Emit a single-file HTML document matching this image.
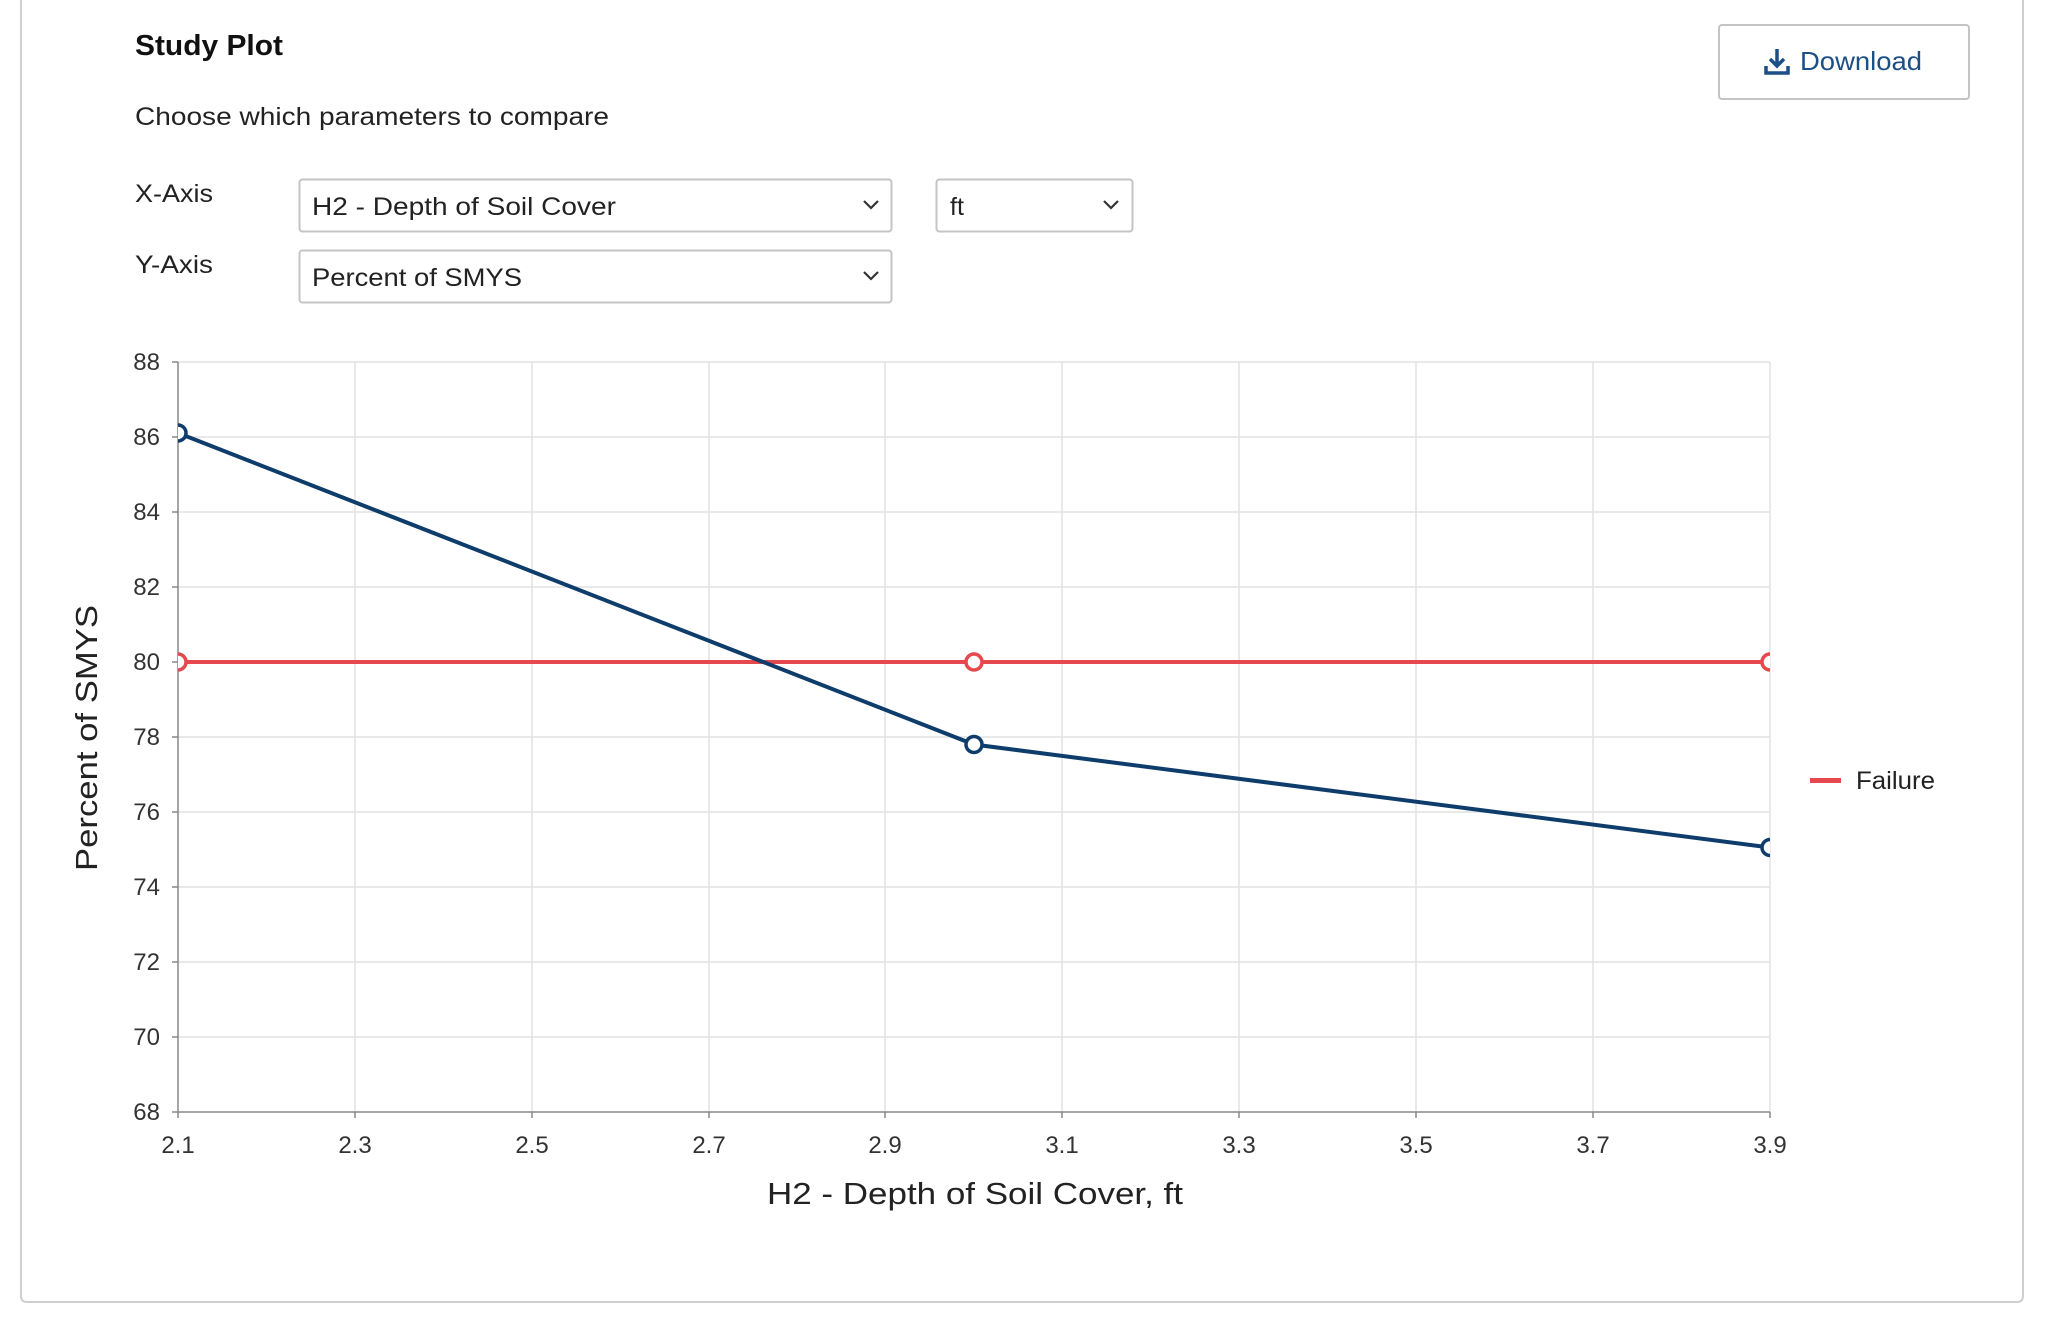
<!DOCTYPE html>
<html><head><meta charset="utf-8"><style>
html,body{margin:0;padding:0;background:#fff;}
body{width:2048px;height:1327px;position:relative;overflow:hidden;font-family:"Liberation Sans",sans-serif;}
</style></head><body>
<svg width="2048" height="1327" viewBox="0 0 2048 1327" xmlns="http://www.w3.org/2000/svg" style="position:absolute;left:0;top:0">
<defs><clipPath id="pc"><rect x="178" y="340" width="1592" height="790"/></clipPath></defs>
<path d="M21 -10 V1296 Q21 1302 27 1302 H2017 Q2023 1302 2023 1296 V-10" fill="none" stroke="#cfcfcf" stroke-width="2"/>
<text x="135" y="55" font-size="29" font-weight="bold" fill="#111" textLength="148" lengthAdjust="spacingAndGlyphs">Study Plot</text>
<text x="135" y="125" font-size="25" fill="#222" textLength="474" lengthAdjust="spacingAndGlyphs">Choose which parameters to compare</text>
<text x="135" y="202" font-size="25" fill="#222" textLength="78" lengthAdjust="spacingAndGlyphs">X-Axis</text>
<text x="135" y="273" font-size="25" fill="#222" textLength="78" lengthAdjust="spacingAndGlyphs">Y-Axis</text>
<rect x="299.5" y="179.5" width="592" height="52" rx="3" fill="#fff" stroke="#c4c4c4" stroke-width="2"/>
<text x="312" y="215" font-size="25" fill="#222" textLength="304" lengthAdjust="spacingAndGlyphs">H2 - Depth of Soil Cover</text>
<path d="M864 201 l7 7 l7 -7" fill="none" stroke="#333" stroke-width="2.2"/>
<rect x="936.5" y="179.5" width="196" height="52" rx="3" fill="#fff" stroke="#c4c4c4" stroke-width="2"/>
<text x="950" y="215" font-size="25" fill="#222">ft</text>
<path d="M1104 201 l7 7 l7 -7" fill="none" stroke="#333" stroke-width="2.2"/>
<rect x="299.5" y="250.5" width="592" height="52" rx="3" fill="#fff" stroke="#c4c4c4" stroke-width="2"/>
<text x="312" y="286" font-size="25" fill="#222" textLength="210" lengthAdjust="spacingAndGlyphs">Percent of SMYS</text>
<path d="M864 272 l7 7 l7 -7" fill="none" stroke="#333" stroke-width="2.2"/>
<rect x="1719" y="25" width="250" height="74" rx="3" fill="#fff" stroke="#c4c4c4" stroke-width="2"/>
<g stroke="#1b4f86" stroke-width="3.5" fill="none"><path d="M1777 49 v17 M1770 59 l7 7 l7 -7"/><path d="M1766 66 v7 h22 v-7"/></g>
<text x="1800" y="70" font-size="26" fill="#1b4f86" textLength="122" lengthAdjust="spacingAndGlyphs">Download</text>
<g stroke="#e2e2e2" stroke-width="1.5">
<line x1="178" y1="362" x2="1770" y2="362"/><line x1="178" y1="437" x2="1770" y2="437"/><line x1="178" y1="512" x2="1770" y2="512"/><line x1="178" y1="587" x2="1770" y2="587"/><line x1="178" y1="662" x2="1770" y2="662"/><line x1="178" y1="737" x2="1770" y2="737"/><line x1="178" y1="812" x2="1770" y2="812"/><line x1="178" y1="887" x2="1770" y2="887"/><line x1="178" y1="962" x2="1770" y2="962"/><line x1="178" y1="1037" x2="1770" y2="1037"/>
<line x1="355" y1="362" x2="355" y2="1112"/><line x1="532" y1="362" x2="532" y2="1112"/><line x1="709" y1="362" x2="709" y2="1112"/><line x1="885" y1="362" x2="885" y2="1112"/><line x1="1062" y1="362" x2="1062" y2="1112"/><line x1="1239" y1="362" x2="1239" y2="1112"/><line x1="1416" y1="362" x2="1416" y2="1112"/><line x1="1593" y1="362" x2="1593" y2="1112"/><line x1="1770" y1="362" x2="1770" y2="1112"/>
</g>
<g stroke="#888" stroke-width="1.5"><line x1="178" y1="362" x2="178" y2="1112"/><line x1="178" y1="1112" x2="1770" y2="1112"/>
<path d="M172 362h6M172 437h6M172 512h6M172 587h6M172 662h6M172 737h6M172 812h6M172 887h6M172 962h6M172 1037h6M172 1112h6"/>
<path d="M178 1112v6M355 1112v6M532 1112v6M709 1112v6M885 1112v6M1062 1112v6M1239 1112v6M1416 1112v6M1593 1112v6M1770 1112v6"/></g>
<g font-size="24" fill="#333" text-anchor="end">
<text x="160" y="370">88</text><text x="160" y="445">86</text><text x="160" y="520">84</text><text x="160" y="595">82</text><text x="160" y="670">80</text><text x="160" y="745">78</text><text x="160" y="820">76</text><text x="160" y="895">74</text><text x="160" y="970">72</text><text x="160" y="1045">70</text><text x="160" y="1120">68</text></g>
<g font-size="24" fill="#333" text-anchor="middle">
<text x="178" y="1153">2.1</text><text x="355" y="1153">2.3</text><text x="532" y="1153">2.5</text><text x="709" y="1153">2.7</text><text x="885" y="1153">2.9</text><text x="1062" y="1153">3.1</text><text x="1239" y="1153">3.3</text><text x="1416" y="1153">3.5</text><text x="1593" y="1153">3.7</text><text x="1770" y="1153">3.9</text></g>
<text x="767" y="1204" font-size="31" fill="#222" textLength="416" lengthAdjust="spacingAndGlyphs">H2 - Depth of Soil Cover, ft</text>
<text transform="translate(97,871) rotate(-90)" font-size="31" fill="#222" textLength="266" lengthAdjust="spacingAndGlyphs">Percent of SMYS</text>
<g clip-path="url(#pc)">
<polyline points="178,662 974,662 1770,662" fill="none" stroke="#e5484d" stroke-width="4"/>
<polyline points="178,433 974,744.5 1770,847.5" fill="none" stroke="#0e3d6b" stroke-width="4"/>
<g fill="#fff" stroke-width="3.5"><circle cx="178" cy="662" r="8" stroke="#e5484d"/><circle cx="974" cy="662" r="8" stroke="#e5484d"/><circle cx="1770" cy="662" r="8" stroke="#e5484d"/>
<circle cx="178" cy="433" r="8" stroke="#0e3d6b"/><circle cx="974" cy="744.5" r="8" stroke="#0e3d6b"/><circle cx="1770" cy="847.5" r="8" stroke="#0e3d6b"/></g>
</g>
<rect x="1810" y="778" width="31" height="5" fill="#e5484d"/>
<text x="1856" y="789" font-size="25" fill="#222" textLength="79" lengthAdjust="spacingAndGlyphs">Failure</text>
</svg>
</body></html>
